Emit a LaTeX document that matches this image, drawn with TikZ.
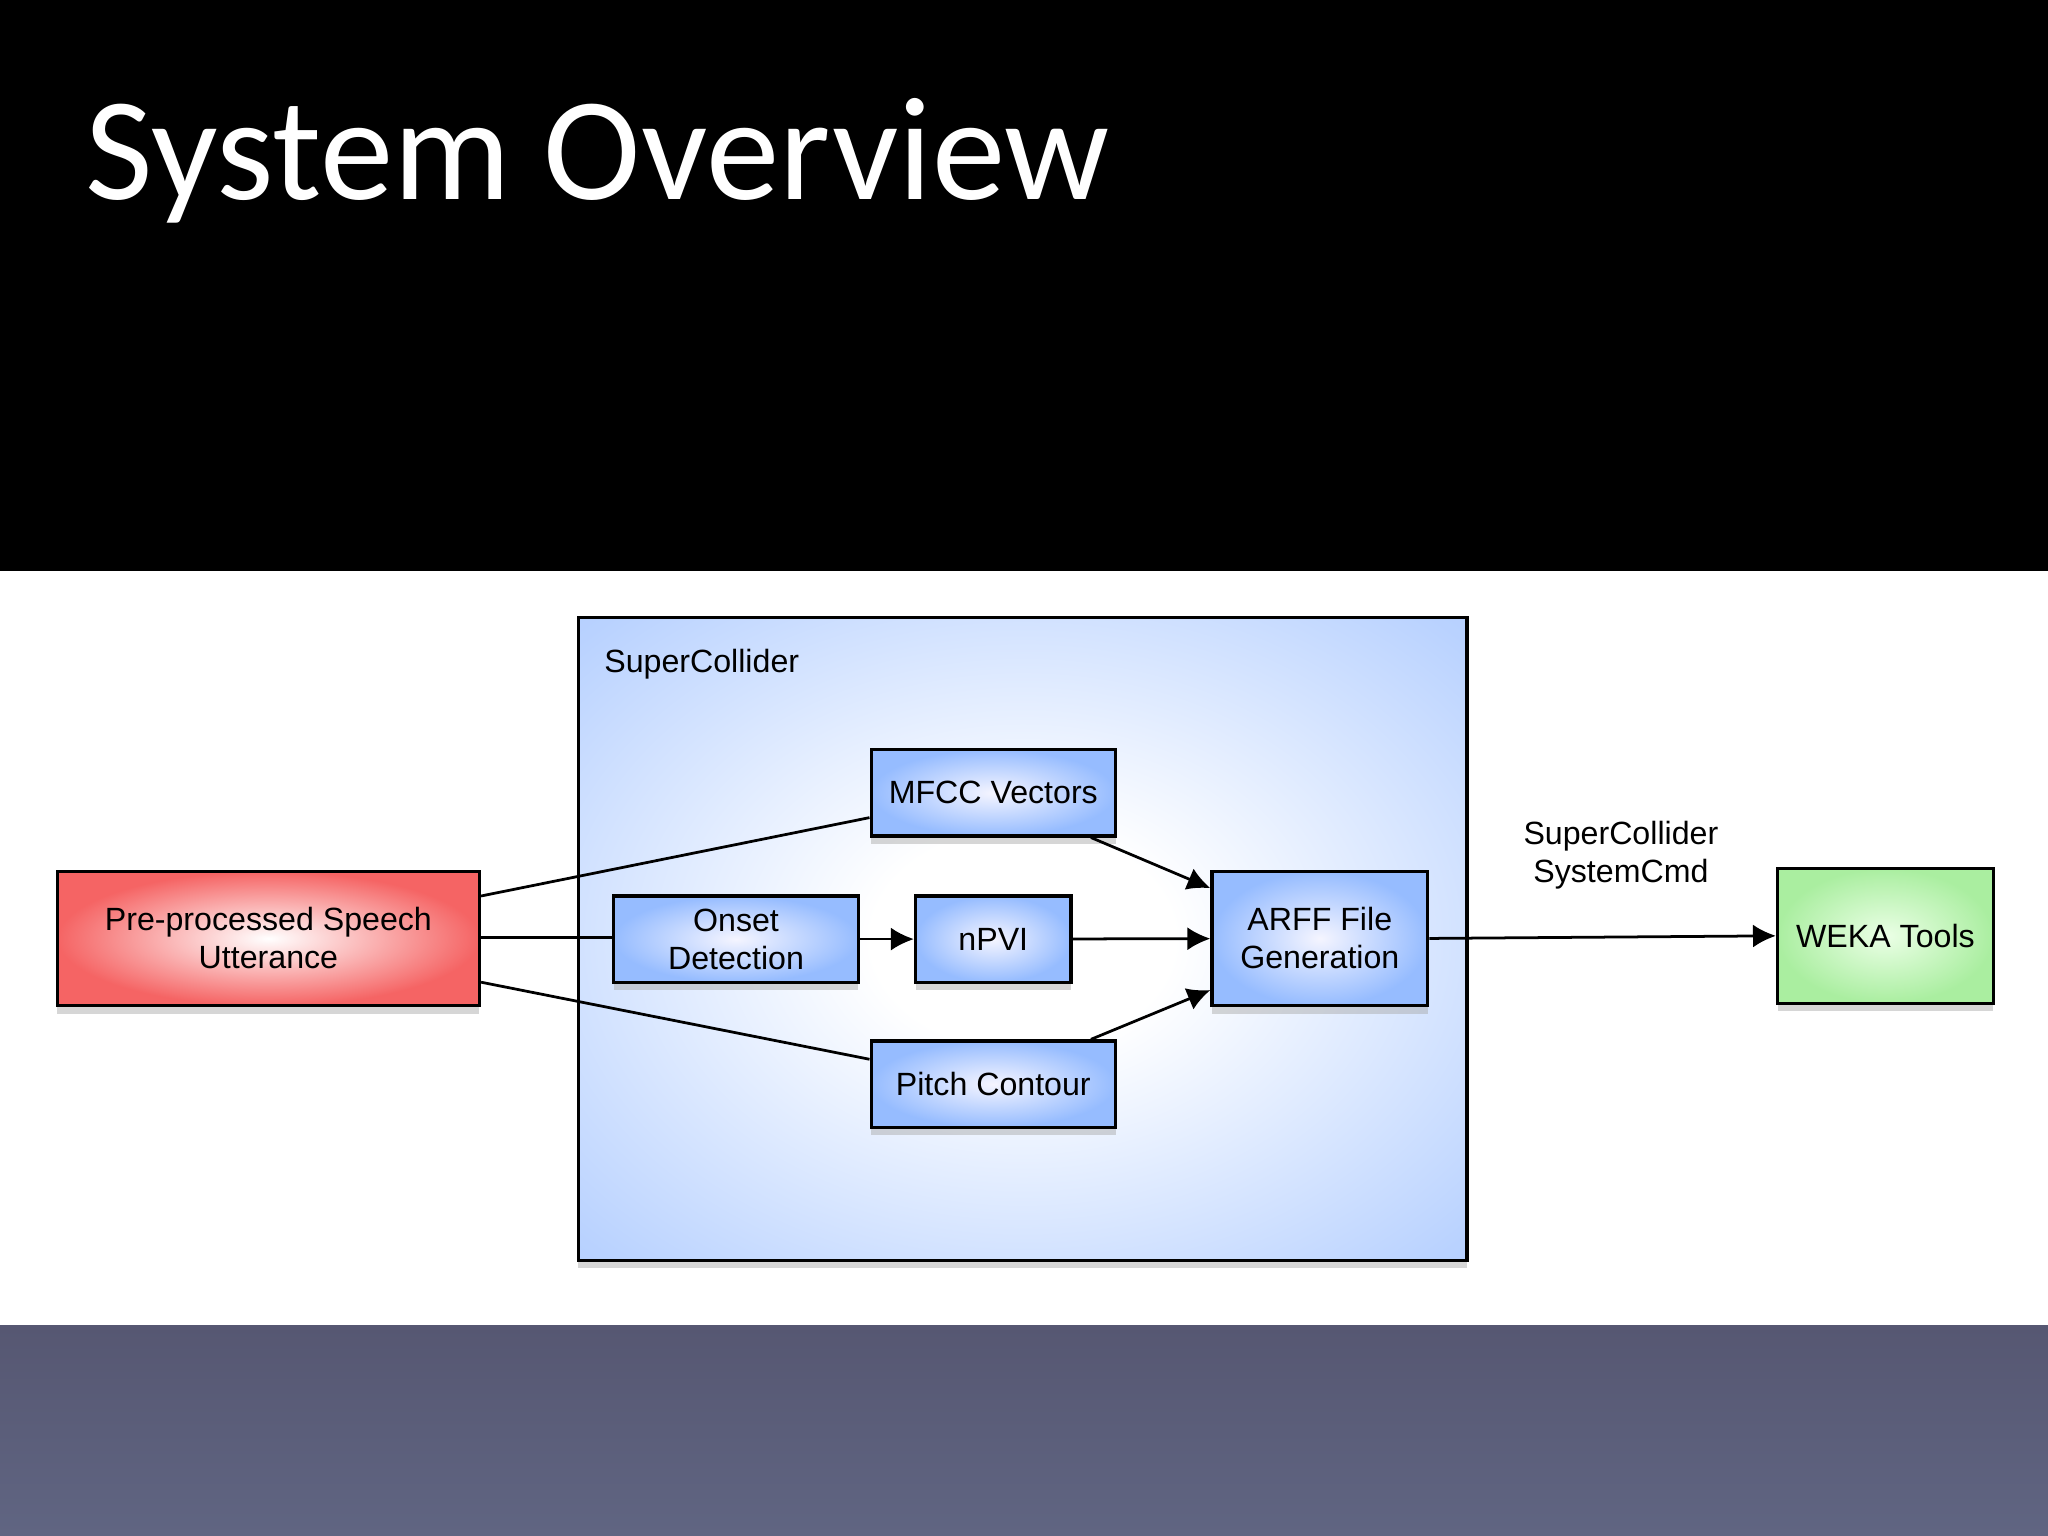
\documentclass[tikz,border=0pt]{standalone}
\usepackage{fontspec}
\setmainfont{Liberation Sans}
\newfontfamily\titlefont{Carlito}
\usetikzlibrary{shadows,arrows.meta}
\pgfdeclareradialshading{bigblue}{\pgfpoint{0cm}{0cm}}{color(0cm)=(white); color(0.3cm)=(white); color(1.2cm)=({rgb,255:red,185;green,210;blue,255}); color(2.2cm)=({rgb,255:red,140;green,180;blue,255}); color(5cm)=({rgb,255:red,140;green,180;blue,255})}
\begin{document}
\begin{tikzpicture}[x=0.01cm,y=-0.01cm,
  box/.style={draw=black,line width=0.7pt,inner sep=0pt,align=center,font=\fontsize{7pt}{8.3pt}\selectfont,
    drop shadow={shadow xshift=0pt,shadow yshift=-0.06cm,fill=black!35,opacity=0.45}},
  blue/.style={box,inner color=blue!4!white,outer color={rgb,255:red,150;green,188;blue,255}},
  con/.style={line width=0.6pt},
  arr/.style={con,-{Latex[length=5pt,width=5pt]}}]
\useasboundingbox (0,0) rectangle (1568,1176);
\fill[black] (0,0) rectangle (1568,437);
\fill[white] (0,437) rectangle (1568,1015);
\shade[top color={rgb,255:red,86;green,87;blue,114},bottom color={rgb,255:red,96;green,101;blue,130}] (0,1015) rectangle (1568,1176);
\node[anchor=base west,text=white,font=\titlefont\fontsize{32pt}{36pt}\selectfont,inner sep=0pt] (title) at (65,153) {System Overview};
\node[box,minimum width=6.8cm,minimum height=4.92cm,shading=bigblue] (sc) at (783,719) {};
\node[anchor=base west,font=\fontsize{7pt}{8.3pt}\selectfont,inner sep=0pt] (sclabel) at (462,515) {SuperCollider};
\node[blue,minimum width=1.87cm,minimum height=0.66cm] (mfcc) at (760.5,607) {MFCC Vectors};
\node[blue,minimum width=1.87cm,minimum height=0.66cm] (onset) at (563.5,719) {Onset\\Detection};
\node[blue,minimum width=1.19cm,minimum height=0.66cm] (npvi) at (760.5,719) {nPVI};
\node[blue,minimum width=1.87cm,minimum height=0.66cm] (pitch) at (760.5,830) {Pitch Contour};
\node[blue,minimum width=1.65cm,minimum height=1.03cm] (arff) at (1010.5,718.5) {ARFF File\\Generation};
\node[box,minimum width=3.23cm,minimum height=1.03cm,inner color=white,outer color={rgb,255:red,245;green,100;blue,100}] (pre) at (205.5,718.5) {Pre-processed Speech\\Utterance};
\node[box,minimum width=1.65cm,minimum height=1.03cm,inner color={rgb,255:red,235;green,255;blue,230},outer color={rgb,255:red,170;green,238;blue,160}] (weka) at (1443.5,716.5) {WEKA Tools};
\node[align=center,font=\fontsize{7pt}{8.3pt}\selectfont] (cmd) at (1241,655) {SuperCollider\\SystemCmd};
\draw[con] (pre.east |- 0,686) -- (mfcc.west |- 0,626);
\draw[con] (pre.east |- 0,718) -- (onset.west |- 0,718);
\draw[con] (pre.east |- 0,752) -- (pitch.west |- 0,811);
\draw[arr] (onset) -- (npvi);
\draw[arr] (npvi) -- (arff);
\draw[arr] (mfcc.south east) ++(-20,0) -- (arff.west |- 0,680);
\draw[arr] (pitch.north east) ++(-20,0) -- (arff.west |- 0,758);
\draw[arr] (arff.east) -- (weka.west);
\end{tikzpicture}
\end{document}
